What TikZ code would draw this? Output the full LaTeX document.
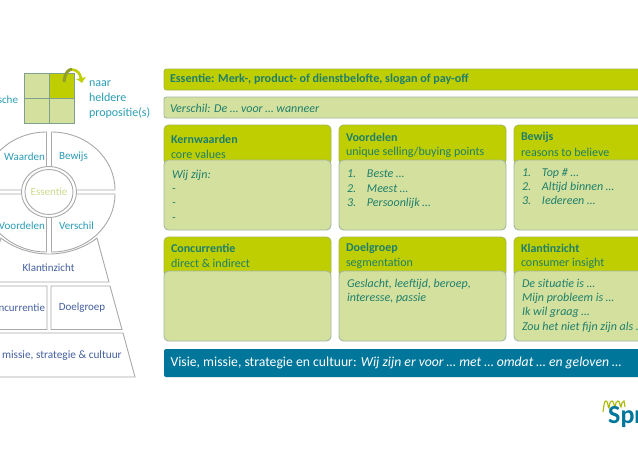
\documentclass[tikz,border=0pt]{standalone}
\usepackage{fontspec}
\setmainfont{Carlito}
\usetikzlibrary{arrows.meta}
\definecolor{lime}{HTML}{BFCE00}
\definecolor{pale}{HTML}{D4E09E}
\definecolor{limeedge}{HTML}{A3B84A}
\definecolor{paleedge}{HTML}{A4B7A0}
\definecolor{tealtxt}{HTML}{1E7F6C}
\definecolor{deepbar}{HTML}{00779A}
\definecolor{cyanlab}{HTML}{2B9DB5}
\definecolor{bluelab}{HTML}{44609F}
\definecolor{gridline}{HTML}{7FA08C}
\definecolor{shapeline}{HTML}{A9A9A9}
\definecolor{esscol}{HTML}{CBDB8E}
\definecolor{olive}{HTML}{8F9F2A}
\tikzset{
  x=1pt,y=-1pt,
  txt/.style={anchor=west,inner sep=0pt,outer sep=0pt,font=\fontsize{12}{12}\selectfont,text=tealtxt},
  head/.style={txt,font=\fontsize{12}{12}\selectfont\bfseries},
  ital/.style={txt,font=\fontsize{12}{12}\selectfont\itshape},
  topbox/.style={fill=lime,draw=limeedge,line width=0.8pt,rounded corners=2.5pt},
  bodybox/.style={fill=pale,draw=paleedge,line width=0.9pt,rounded corners=4.5pt},
  leftlab/.style={inner sep=0pt,outer sep=0pt,font=\fontsize{11}{11}\selectfont,text=cyanlab},
  pyrlab/.style={inner sep=0pt,outer sep=0pt,font=\fontsize{11}{11}\selectfont,text=bluelab},
  outline/.style={draw=shapeline,line width=0.9pt},
  cell/.style={fill=pale,draw=gridline,line width=0.7pt},
}
% x1 y1 x2 y2 head sub body name headoffset ; \bodyoff and \bodytop set before the call
\newcommand{\card}[9]{%
  \draw[topbox,rounded corners=4.5pt] (#1,#2) rectangle (#3,#2+40);
  \draw[bodybox] (#1,#2+\bodytop) rectangle (#3,#4);
  \node[head] (#8a) at (#1+7,#2+#9) {#5};
  \node[txt] (#8b) at (#1+7,#2+#9+15) {#6};
  \node[ital,align=left,font=\fontsize{12}{14.35}\selectfont\itshape,anchor=north west] (#8c) at (#1+8,#2+\bodyoff) {#7};
}
\newcommand{\numb}[1]{\makebox[20pt][l]{#1}}
\begin{document}
\begin{tikzpicture}
\useasboundingbox (0,0) rectangle (638,451);
\clip (0,0) rectangle (638,451);
\fill[white] (0,0) rectangle (638,451);

% top grid
\draw[cell] (24,73) rectangle (49,98);
\draw[cell,fill=lime] (49,73) rectangle (74,98);
\draw[cell] (24,98) rectangle (49,123);
\draw[cell] (49,98) rectangle (74,123);
\draw[line width=3pt,draw=olive] (64,82) .. controls (65,72) and (69,69) .. (72,69.5);
\draw[line width=2.6pt,draw=lime,-{Latex[length=5pt,width=11pt]}] (72,69.5) .. controls (77,70) and (80,73) .. (82,83);
\node[leftlab,anchor=east] (sche) at (18,100) {sche};
\node[leftlab,anchor=west,align=left,font=\fontsize{12}{15}\selectfont] (naar) at (89,100) {naar\\heldere\\propositie(s)};

% wheel
\coordinate (c) at (49,192);
\draw[outline,fill=white] (115,190) arc[start angle=0,end angle=-90,x radius=63.5,y radius=58] -- (51.5,190) -- cycle;
\draw[outline,fill=white] (115,194) arc[start angle=0,end angle=90,x radius=63.5,y radius=58] -- (51.5,194) -- cycle;
\draw[outline,fill=white] (-17,190) arc[start angle=180,end angle=270,x radius=63.5,y radius=58] -- (46.5,190) -- cycle;
\draw[outline,fill=white] (-17,194) arc[start angle=180,end angle=90,x radius=63.5,y radius=58] -- (46.5,194) -- cycle;
\draw[outline,fill=white] (c) ellipse[x radius=27.5,y radius=25.5];
\draw[outline,fill=white] (c) ellipse[x radius=24,y radius=22.5];
\node[leftlab] (waarden) at (24.5,157) {Waarden};
\node[leftlab] (bewijs) at (73.5,157) {Bewijs};
\node[leftlab,text=esscol] (essentie) at (49,192) {Essentie};
\node[leftlab,anchor=east] (voordelen) at (45,225.5) {Voordelen};
\node[leftlab] (verschil) at (76.5,225.5) {Verschil};

% pyramid
\draw[outline,fill=white] (97,238) -- (109,282) -- (-12,282) -- (1,238) .. controls (15,249) and (33,254) .. (49,254) .. controls (65,254) and (83,249) .. (97,238) -- cycle;
\draw[outline,fill=white] (47,286) -- (47,329.5) -- (-24,329.5) -- (-10,286) -- cycle;
\draw[outline,fill=white] (51,286) -- (110,286) -- (122,329.5) -- (51,329.5) -- cycle;
\draw[outline,fill=white] (123,333) -- (135,377) -- (-40,377) -- (-25,333) -- cycle;
\node[pyrlab] (klant) at (48.5,268) {Klantinzicht};
\node[pyrlab,anchor=east] (conc) at (45,308) {ncurrentie};
\node[pyrlab] (doel) at (82,308) {Doelgroep};
\node[pyrlab,anchor=west,font=\fontsize{11.3}{11.3}\selectfont] (visie) at (2,356) {missie, strategie \& cultuur};

% bars
\draw[topbox] (164,69) rectangle (660,90);
\node[head,font=\fontsize{12.1}{12}\selectfont\bfseries] (ess) at (170,79.5) {Essentie: Merk-, product- of dienstbelofte, slogan of pay-off};
\draw[bodybox,rounded corners=2.5pt] (164,97) rectangle (660,118);
\node[ital] (ver) at (170,108) {Verschil: De … voor … wanneer};

% cards
\def\bodytop{35}
\def\bodyoff{45}
\card{164}{125}{331}{230}{Kernwaarden}{core values}{Wij zijn:\\-\\-\\-}{k}{14}
\card{339}{125}{506}{230}{Voordelen}{unique selling/buying points}{\numb{1.}Beste …\\\numb{2.}Meest …\\\numb{3.}Persoonlijk …}{v}{12}
\def\bodyoff{43}
\card{514}{125}{660}{230}{Bewijs}{reasons to believe}{\numb{1.}Top \# …\\\numb{2.}Altijd binnen …\\\numb{3.}Iedereen …}{b}{12}
\def\bodytop{34}
\def\bodyoff{42}
\card{164}{237}{331}{341}{Concurrentie}{direct \& indirect}{}{c}{11}
\card{339}{237}{506}{341}{Doelgroep}{segmentation}{Geslacht, leeftijd, beroep,\\interesse, passie}{d}{11}
\card{514}{237}{660}{341}{Klantinzicht}{consumer insight}{De situatie is …\\Mijn probleem is …\\Ik wil graag …\\Zou het niet fijn zijn als …}{i}{11}

% bottom bar
\fill[deepbar,rounded corners=2pt] (164,349) rectangle (660,377);
\node[txt,text=white,font=\fontsize{13.7}{14}\selectfont] (vis) at (170.5,363) {Visie, missie, strategie en cultuur: \textit{Wij zijn er voor … met … omdat … en geloven …}};

% logo
\draw[lime!90!black,line width=1.1pt] (603,412) .. controls (604,406) and (604,401) .. (606,401) .. controls (608,401) and (608,408) .. (609,408) .. controls (609.5,404) and (610,401) .. (612,401) .. controls (614,401) and (614,407) .. (615,407) .. controls (615.5,404) and (616,401) .. (618,401) .. controls (620,401) and (620,407) .. (621,407) .. controls (621.5,404) and (622,401) .. (624,401) -- (625,407);
\node[inner sep=0pt,anchor=west,font=\fontsize{26}{26}\selectfont\bfseries,text=deepbar] (logo) at (608,417) {Spr};
\end{tikzpicture}
\end{document}
